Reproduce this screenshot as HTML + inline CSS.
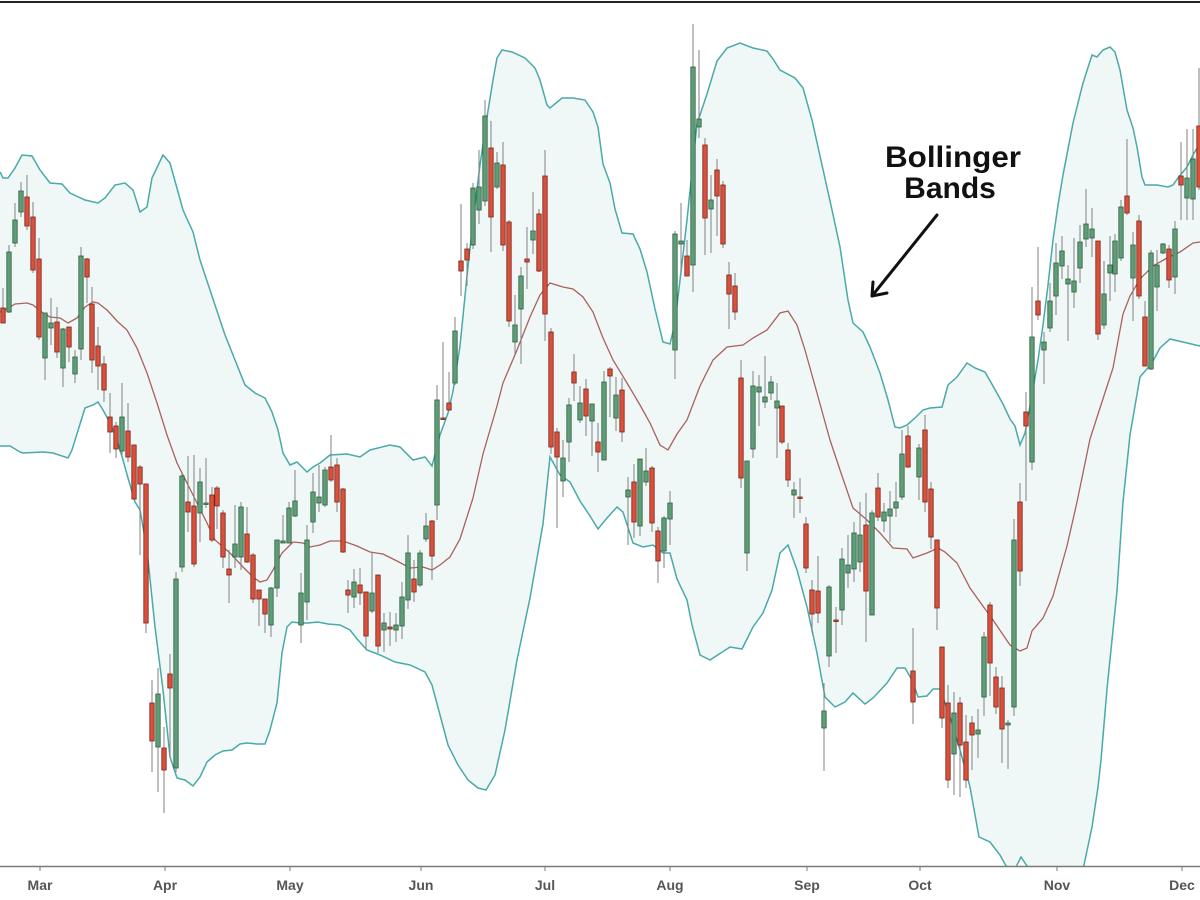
<!DOCTYPE html>
<html><head><meta charset="utf-8"><style>
html,body{margin:0;padding:0;background:#fff;}
svg{display:block}
.g{fill:#5e9e77;stroke:#2e5e40;stroke-width:0.8}
.r{fill:#d9503b;stroke:#7a2216;stroke-width:0.8}
.lab{font-family:"Liberation Sans",Arial,sans-serif;font-weight:bold;font-size:14px;fill:#555;text-anchor:middle}
</style></head><body>
<svg width="1200" height="900" viewBox="0 0 1200 900" xmlns="http://www.w3.org/2000/svg">
<defs><clipPath id="c"><rect x="0" y="0" width="1200" height="866"/></clipPath></defs>
<rect x="0" y="0" width="1200" height="900" fill="#fff"/>
<g clip-path="url(#c)">
<polygon fill="#f0f7f7" points="0,900 0,172 3,178 8,178 15,168 22,155 32,156 40,170 50,183 62,184 70,193 85,200 98,203 105,198 115,185 125,183 133,190 140,212 147,207 152,178 163,155 170,163 183,210 193,232 200,260 205,275 215,305 225,335 235,360 245,385 255,393 265,398 272,412 278,430 283,453 290,465 297,462 307,472 313,467 320,463 330,455 347,454 360,457 370,450 390,445 400,447 413,460 425,457 432,466 440,435 448,413 453,391 460,346 467,276 473,221 480,165 487,117 493,80 497,58 502,50 512,52 525,58 535,68 540,80 547,105 550,108 562,98 573,98 585,100 593,112 598,127 603,164 610,183 615,209 622,233 633,234 640,249 647,272 655,309 663,342 670,344 675,323 687,220 697,124 707,94 717,61 727,48 740,43 753,48 767,51 773,59 780,70 795,78 803,88 812,120 822,165 832,210 840,247 848,300 853,323 863,332 870,347 880,373 888,400 895,427 900,428 907,425 915,418 923,410 930,408 942,407 948,385 957,377 967,363 975,368 985,372 993,386 1003,404 1010,419 1015,426 1020,445 1025,433 1032,395 1038,360 1043,325 1048,285 1053,240 1058,205 1063,175 1073,123 1083,83 1092,55 1097,57 1103,50 1110,47 1115,52 1120,70 1127,110 1133,128 1137,147 1142,177 1145,185 1157,185 1168,187 1173,185 1178,178 1187,167 1193,155 1200,143 1200,900"/>
<polygon fill="#fff" points="0,900 0,446 10,446 20,452 23,453 43,452 53,453 68,458 72,450 85,408 93,405 98,402 103,410 110,423 117,440 123,460 128,478 135,502 140,510 147,550 155,627 163,690 170,757 177,778 185,780 193,786 200,777 207,762 215,755 223,751 232,750 240,744 247,743 257,744 265,744 270,730 277,703 282,653 287,627 292,622 300,623 308,623 318,622 328,624 340,625 350,630 357,639 367,650 380,655 395,662 410,665 425,672 432,685 440,715 448,745 458,765 468,780 478,788 486,790 495,775 505,730 517,660 530,598 543,524 550,457 560,475 570,482 580,501 590,516 598,529 607,518 617,507 623,512 633,543 643,547 653,545 663,553 670,553 677,579 687,600 692,625 700,655 710,660 730,647 742,649 753,627 763,613 772,590 780,553 788,545 797,570 807,607 817,653 825,697 835,707 845,702 853,693 865,704 873,698 887,683 897,668 905,668 912,680 918,697 927,696 933,689 940,689 950,717 960,750 970,787 979,837 990,842 1000,855 1006,866 1015,869 1021,857 1027,866 1040,885 1078,885 1084,865 1092,827 1098,787 1101,760 1107,689 1117,591 1123,502 1130,435 1140,377 1152,363 1160,348 1170,339 1187,343 1200,346 1200,900"/>
<polyline fill="none" stroke="#4aa9a9" stroke-width="1.5" points="0,172 3,178 8,178 15,168 22,155 32,156 40,170 50,183 62,184 70,193 85,200 98,203 105,198 115,185 125,183 133,190 140,212 147,207 152,178 163,155 170,163 183,210 193,232 200,260 205,275 215,305 225,335 235,360 245,385 255,393 265,398 272,412 278,430 283,453 290,465 297,462 307,472 313,467 320,463 330,455 347,454 360,457 370,450 390,445 400,447 413,460 425,457 432,466 440,435 448,413 453,391 460,346 467,276 473,221 480,165 487,117 493,80 497,58 502,50 512,52 525,58 535,68 540,80 547,105 550,108 562,98 573,98 585,100 593,112 598,127 603,164 610,183 615,209 622,233 633,234 640,249 647,272 655,309 663,342 670,344 675,323 687,220 697,124 707,94 717,61 727,48 740,43 753,48 767,51 773,59 780,70 795,78 803,88 812,120 822,165 832,210 840,247 848,300 853,323 863,332 870,347 880,373 888,400 895,427 900,428 907,425 915,418 923,410 930,408 942,407 948,385 957,377 967,363 975,368 985,372 993,386 1003,404 1010,419 1015,426 1020,445 1025,433 1032,395 1038,360 1043,325 1048,285 1053,240 1058,205 1063,175 1073,123 1083,83 1092,55 1097,57 1103,50 1110,47 1115,52 1120,70 1127,110 1133,128 1137,147 1142,177 1145,185 1157,185 1168,187 1173,185 1178,178 1187,167 1193,155 1200,143"/>
<polyline fill="none" stroke="#4aa9a9" stroke-width="1.5" points="0,446 10,446 20,452 23,453 43,452 53,453 68,458 72,450 85,408 93,405 98,402 103,410 110,423 117,440 123,460 128,478 135,502 140,510 147,550 155,627 163,690 170,757 177,778 185,780 193,786 200,777 207,762 215,755 223,751 232,750 240,744 247,743 257,744 265,744 270,730 277,703 282,653 287,627 292,622 300,623 308,623 318,622 328,624 340,625 350,630 357,639 367,650 380,655 395,662 410,665 425,672 432,685 440,715 448,745 458,765 468,780 478,788 486,790 495,775 505,730 517,660 530,598 543,524 550,457 560,475 570,482 580,501 590,516 598,529 607,518 617,507 623,512 633,543 643,547 653,545 663,553 670,553 677,579 687,600 692,625 700,655 710,660 730,647 742,649 753,627 763,613 772,590 780,553 788,545 797,570 807,607 817,653 825,697 835,707 845,702 853,693 865,704 873,698 887,683 897,668 905,668 912,680 918,697 927,696 933,689 940,689 950,717 960,750 970,787 979,837 990,842 1000,855 1006,866 1015,869 1021,857 1027,866 1040,885 1078,885 1084,865 1092,827 1098,787 1101,760 1107,689 1117,591 1123,502 1130,435 1140,377 1152,363 1160,348 1170,339 1187,343 1200,346"/>
<polyline fill="none" stroke="#a9625c" stroke-width="1.3" points="0,312 5,310 15,304 27,303 33,305 43,313 50,317 60,318 68,323 77,318 85,307 93,302 98,303 107,310 118,322 127,330 137,348 147,373 157,403 167,435 177,463 187,483 197,503 207,523 215,540 230,553 243,567 253,577 260,582 267,580 273,570 282,553 293,542 303,543 310,547 320,545 330,541 343,541 357,546 370,552 383,554 397,561 410,568 423,567 432,570 440,565 450,557 460,539 473,498 483,454 497,406 503,383 517,350 530,317 540,295 550,283 563,287 573,289 583,297 593,312 603,338 613,360 627,383 640,405 650,423 660,445 668,450 677,434 687,420 700,386 713,360 727,347 743,345 753,338 767,330 780,313 788,311 797,325 805,350 817,393 830,440 840,470 853,508 867,520 880,533 893,548 907,549 913,558 927,553 938,548 945,552 957,563 970,588 980,602 993,620 1010,645 1020,651 1027,648 1032,631 1043,618 1053,596 1067,546 1077,502 1090,439 1100,408 1113,368 1123,314 1130,296 1140,279 1153,266 1167,258 1180,252 1193,243 1200,242"/>
</g>
<path fill="none" stroke="#808080" stroke-width="1" d="M3 288V323M9 245V313M15 203V247M21 182V217M27 175V230M33 202V273M39 238V340M45 313V380M51 298V345M57 307V358M63 328V387M69 327V362M75 350V383M81 247V360M87 258V303M92 287V373M98 327V390M104 356V402M110 393V453M116 422V458M122 383V455M128 403V462M134 445V500M140 465V555M146 484V633M152 680V772M158 668V792M164 727V813M170 654V757M176 572V772M182 473V572M188 456V532M194 455V567M200 468V542M206 458V508M212 487V542M217 486V529M223 510V568M229 550V603M235 505V568M241 502V570M247 507V563M253 553V603M259 590V626M265 599V633M271 587V637M277 540V597M283 515V543M289 502V543M295 470V517M301 573V643M307 525V620M313 473V533M319 465V512M325 467V507M331 435V482M337 458V512M343 488V553M348 580V613M354 569V608M360 568V605M366 592V650M372 553V613M378 575V653M384 613V652M390 612V646M396 613V642M402 582V639M408 535V609M414 560V602M420 550V587M426 513V542M432 520V580M437 385V520M443 342V420M449 372V411M455 317V385M461 204V296M467 243V286M473 183V249M479 150V224M485 100V206M491 121V252M497 152V189M503 142V251M509 220V327M515 295V354M521 267V364M527 227V289M533 192V254M539 209V272M545 150V341M551 328V454M557 428V528M563 440V497M569 398V462M574 354V401M580 386V423M586 379V436M592 404V456M598 423V472M604 371V460M610 367V417M616 377V431M622 378V442M628 477V545M634 464V538M640 459V536M646 448V486M652 466V532M658 527V583M664 516V568M670 491V545M675 231V379M681 203V272M687 240V276M693 24V292M699 50V138M705 138V255M711 175V253M717 159V236M723 181V248M729 262V329M735 273V320M741 360V488M747 461V571M753 371V458M759 375V426M765 356V408M771 376V400M777 383V458M782 406V444M788 443V487M794 482V518M800 478V513M806 517V573M812 580V633M818 556V623M824 683V771M829 585V667M836 607V653M842 548V625M848 535V588M854 522V582M860 502V572M866 493V642M872 510V615M878 473V521M884 503V532M890 491V542M896 482V517M902 430V500M908 426V468M913 628V724M919 444V500M925 415V512M931 482V549M937 540V630M942 647V728M948 685V788M954 692V795M960 697V797M966 715V788M972 716V770M978 709V758M984 632V716M990 602V696M996 667V714M1002 676V763M1008 720V769M1014 519V716M1020 483V586M1026 392V501M1032 287V470M1038 247V320M1044 332V384M1050 283V332M1056 243V315M1062 236V279M1068 265V341M1074 238V308M1080 225V283M1086 189V247M1092 208V257M1098 241V340M1104 261V329M1110 236V301M1115 234V292M1121 200V261M1127 139V215M1133 232V321M1139 215V299M1145 301V366M1151 250V370M1157 250V311M1163 243V254M1169 245V288M1175 221V294M1181 142V220M1187 129V220M1193 129V220M1199 68V190"/>
<g>
<rect class="r" x="0.8" y="308" width="4.4" height="15"/>
<rect class="g" x="6.8" y="252" width="4.4" height="60"/>
<rect class="g" x="12.8" y="220" width="4.4" height="23"/>
<rect class="g" x="18.8" y="191" width="4.4" height="21"/>
<rect class="r" x="24.8" y="197" width="4.4" height="29"/>
<rect class="r" x="30.8" y="217" width="4.4" height="53"/>
<rect class="r" x="36.8" y="259" width="4.4" height="78"/>
<rect class="g" x="42.8" y="313" width="4.4" height="45"/>
<rect class="g" x="48.8" y="323" width="4.4" height="5"/>
<rect class="r" x="54.8" y="322" width="4.4" height="30"/>
<rect class="g" x="60.8" y="329" width="4.4" height="39"/>
<rect class="r" x="66.8" y="327" width="4.4" height="20"/>
<rect class="g" x="72.8" y="357" width="4.4" height="17"/>
<rect class="g" x="78.8" y="256" width="4.4" height="93"/>
<rect class="r" x="84.8" y="259" width="4.4" height="18"/>
<rect class="r" x="89.8" y="304" width="4.4" height="56"/>
<rect class="r" x="95.8" y="346" width="4.4" height="20"/>
<rect class="r" x="101.8" y="364" width="4.4" height="26"/>
<rect class="r" x="107.8" y="417" width="4.4" height="15"/>
<rect class="r" x="113.8" y="426" width="4.4" height="23"/>
<rect class="g" x="119.8" y="417" width="4.4" height="34"/>
<rect class="r" x="125.8" y="431" width="4.4" height="26"/>
<rect class="r" x="131.8" y="445" width="4.4" height="54"/>
<rect class="r" x="137.8" y="467" width="4.4" height="17"/>
<rect class="r" x="143.8" y="484" width="4.4" height="139"/>
<rect class="r" x="149.8" y="703" width="4.4" height="38"/>
<rect class="g" x="155.8" y="694" width="4.4" height="53"/>
<rect class="r" x="161.8" y="748" width="4.4" height="22"/>
<rect class="r" x="167.8" y="674" width="4.4" height="14"/>
<rect class="g" x="173.8" y="579" width="4.4" height="189"/>
<rect class="g" x="179.8" y="476" width="4.4" height="91"/>
<rect class="r" x="185.8" y="502" width="4.4" height="10"/>
<rect class="r" x="191.8" y="506" width="4.4" height="58"/>
<rect class="g" x="197.8" y="482" width="4.4" height="31"/>
<rect class="g" x="203.8" y="503" width="4.4" height="1.5"/>
<rect class="r" x="209.8" y="495" width="4.4" height="45"/>
<rect class="r" x="214.8" y="488" width="4.4" height="18"/>
<rect class="r" x="220.8" y="513" width="4.4" height="44"/>
<rect class="r" x="226.8" y="569" width="4.4" height="6"/>
<rect class="g" x="232.8" y="544" width="4.4" height="13"/>
<rect class="g" x="238.8" y="507" width="4.4" height="50"/>
<rect class="r" x="244.8" y="534" width="4.4" height="28"/>
<rect class="r" x="250.8" y="555" width="4.4" height="44"/>
<rect class="r" x="256.8" y="590" width="4.4" height="9"/>
<rect class="r" x="262.8" y="599" width="4.4" height="15"/>
<rect class="g" x="268.8" y="588" width="4.4" height="37"/>
<rect class="g" x="274.8" y="540" width="4.4" height="48"/>
<rect class="g" x="280.8" y="541" width="4.4" height="2"/>
<rect class="g" x="286.8" y="508" width="4.4" height="35"/>
<rect class="g" x="292.8" y="501" width="4.4" height="15"/>
<rect class="g" x="298.8" y="593" width="4.4" height="32"/>
<rect class="g" x="304.8" y="540" width="4.4" height="62"/>
<rect class="g" x="310.8" y="492" width="4.4" height="30"/>
<rect class="g" x="316.8" y="497" width="4.4" height="6"/>
<rect class="g" x="322.8" y="470" width="4.4" height="35"/>
<rect class="r" x="328.8" y="467" width="4.4" height="13"/>
<rect class="r" x="334.8" y="465" width="4.4" height="37"/>
<rect class="r" x="340.8" y="489" width="4.4" height="63"/>
<rect class="r" x="345.8" y="590" width="4.4" height="5"/>
<rect class="g" x="351.8" y="582" width="4.4" height="15"/>
<rect class="r" x="357.8" y="585" width="4.4" height="8"/>
<rect class="r" x="363.8" y="592" width="4.4" height="44"/>
<rect class="g" x="369.8" y="593" width="4.4" height="18"/>
<rect class="r" x="375.8" y="575" width="4.4" height="71"/>
<rect class="g" x="381.8" y="623" width="4.4" height="7"/>
<rect class="r" x="387.8" y="627" width="4.4" height="2"/>
<rect class="g" x="393.8" y="625" width="4.4" height="5"/>
<rect class="g" x="399.8" y="597" width="4.4" height="29"/>
<rect class="g" x="405.8" y="553" width="4.4" height="47"/>
<rect class="r" x="411.8" y="579" width="4.4" height="13"/>
<rect class="g" x="417.8" y="553" width="4.4" height="32"/>
<rect class="g" x="423.8" y="526" width="4.4" height="13"/>
<rect class="r" x="429.8" y="521" width="4.4" height="35"/>
<rect class="g" x="434.8" y="400" width="4.4" height="105"/>
<rect class="r" x="440.8" y="418" width="4.4" height="1.5"/>
<rect class="r" x="446.8" y="403" width="4.4" height="7"/>
<rect class="g" x="452.8" y="331" width="4.4" height="52"/>
<rect class="r" x="458.8" y="261" width="4.4" height="10"/>
<rect class="r" x="464.8" y="249" width="4.4" height="11"/>
<rect class="g" x="470.8" y="188" width="4.4" height="57"/>
<rect class="g" x="476.8" y="187" width="4.4" height="23"/>
<rect class="g" x="482.8" y="116" width="4.4" height="85"/>
<rect class="r" x="488.8" y="148" width="4.4" height="69"/>
<rect class="g" x="494.8" y="163" width="4.4" height="24"/>
<rect class="r" x="500.8" y="165" width="4.4" height="80"/>
<rect class="r" x="506.8" y="222" width="4.4" height="99"/>
<rect class="g" x="512.8" y="325" width="4.4" height="17"/>
<rect class="g" x="518.8" y="276" width="4.4" height="33"/>
<rect class="r" x="524.8" y="259" width="4.4" height="3"/>
<rect class="g" x="530.8" y="231" width="4.4" height="9"/>
<rect class="r" x="536.8" y="214" width="4.4" height="57"/>
<rect class="r" x="542.8" y="176" width="4.4" height="138"/>
<rect class="r" x="548.8" y="332" width="4.4" height="115"/>
<rect class="r" x="554.8" y="432" width="4.4" height="25"/>
<rect class="g" x="560.8" y="458" width="4.4" height="23"/>
<rect class="g" x="566.8" y="405" width="4.4" height="37"/>
<rect class="r" x="571.8" y="372" width="4.4" height="11"/>
<rect class="g" x="577.8" y="403" width="4.4" height="17"/>
<rect class="r" x="583.8" y="389" width="4.4" height="27"/>
<rect class="g" x="589.8" y="404" width="4.4" height="17"/>
<rect class="r" x="595.8" y="442" width="4.4" height="10"/>
<rect class="g" x="601.8" y="382" width="4.4" height="78"/>
<rect class="r" x="607.8" y="369" width="4.4" height="7"/>
<rect class="g" x="613.8" y="395" width="4.4" height="23"/>
<rect class="r" x="619.8" y="390" width="4.4" height="42"/>
<rect class="g" x="625.8" y="490" width="4.4" height="7"/>
<rect class="r" x="631.8" y="482" width="4.4" height="40"/>
<rect class="g" x="637.8" y="459" width="4.4" height="67"/>
<rect class="g" x="643.8" y="471" width="4.4" height="11"/>
<rect class="r" x="649.8" y="468" width="4.4" height="55"/>
<rect class="r" x="655.8" y="531" width="4.4" height="30"/>
<rect class="g" x="661.8" y="518" width="4.4" height="33"/>
<rect class="g" x="667.8" y="503" width="4.4" height="16"/>
<rect class="g" x="672.8" y="234" width="4.4" height="116"/>
<rect class="g" x="678.8" y="241" width="4.4" height="3"/>
<rect class="r" x="684.8" y="256" width="4.4" height="20"/>
<rect class="g" x="690.8" y="67" width="4.4" height="198"/>
<rect class="g" x="696.8" y="119" width="4.4" height="8"/>
<rect class="r" x="702.8" y="145" width="4.4" height="73"/>
<rect class="g" x="708.8" y="200" width="4.4" height="9"/>
<rect class="r" x="714.8" y="170" width="4.4" height="26"/>
<rect class="r" x="720.8" y="185" width="4.4" height="59"/>
<rect class="r" x="726.8" y="275" width="4.4" height="19"/>
<rect class="r" x="732.8" y="286" width="4.4" height="26"/>
<rect class="r" x="738.8" y="378" width="4.4" height="100"/>
<rect class="g" x="744.8" y="461" width="4.4" height="92"/>
<rect class="g" x="750.8" y="386" width="4.4" height="63"/>
<rect class="g" x="756.8" y="387" width="4.4" height="5"/>
<rect class="g" x="762.8" y="397" width="4.4" height="5"/>
<rect class="g" x="768.8" y="382" width="4.4" height="11"/>
<rect class="g" x="774.8" y="401" width="4.4" height="7"/>
<rect class="r" x="779.8" y="406" width="4.4" height="36"/>
<rect class="r" x="785.8" y="450" width="4.4" height="30"/>
<rect class="g" x="791.8" y="490" width="4.4" height="5"/>
<rect class="r" x="797.8" y="497" width="4.4" height="1.5"/>
<rect class="r" x="803.8" y="524" width="4.4" height="44"/>
<rect class="r" x="809.8" y="590" width="4.4" height="24"/>
<rect class="r" x="815.8" y="591" width="4.4" height="22"/>
<rect class="g" x="821.8" y="711" width="4.4" height="17"/>
<rect class="g" x="826.8" y="587" width="4.4" height="69"/>
<rect class="r" x="833.8" y="620" width="4.4" height="1.5"/>
<rect class="g" x="839.8" y="559" width="4.4" height="51"/>
<rect class="g" x="845.8" y="565" width="4.4" height="8"/>
<rect class="g" x="851.8" y="533" width="4.4" height="36"/>
<rect class="g" x="857.8" y="535" width="4.4" height="27"/>
<rect class="r" x="863.8" y="525" width="4.4" height="66"/>
<rect class="g" x="869.8" y="513" width="4.4" height="102"/>
<rect class="r" x="875.8" y="488" width="4.4" height="29"/>
<rect class="g" x="881.8" y="512" width="4.4" height="9"/>
<rect class="g" x="887.8" y="509" width="4.4" height="7"/>
<rect class="g" x="893.8" y="502" width="4.4" height="6"/>
<rect class="g" x="899.8" y="454" width="4.4" height="43"/>
<rect class="r" x="905.8" y="436" width="4.4" height="31"/>
<rect class="r" x="910.8" y="671" width="4.4" height="31"/>
<rect class="g" x="916.8" y="448" width="4.4" height="29"/>
<rect class="r" x="922.8" y="430" width="4.4" height="72"/>
<rect class="r" x="928.8" y="489" width="4.4" height="48"/>
<rect class="r" x="934.8" y="540" width="4.4" height="68"/>
<rect class="r" x="939.8" y="647" width="4.4" height="71"/>
<rect class="r" x="945.8" y="703" width="4.4" height="77"/>
<rect class="g" x="951.8" y="713" width="4.4" height="41"/>
<rect class="r" x="957.8" y="703" width="4.4" height="42"/>
<rect class="r" x="963.8" y="742" width="4.4" height="38"/>
<rect class="r" x="969.8" y="723" width="4.4" height="12"/>
<rect class="g" x="975.8" y="730" width="4.4" height="4"/>
<rect class="g" x="981.8" y="637" width="4.4" height="60"/>
<rect class="r" x="987.8" y="605" width="4.4" height="58"/>
<rect class="r" x="993.8" y="677" width="4.4" height="30"/>
<rect class="r" x="999.8" y="688" width="4.4" height="41"/>
<rect class="g" x="1005.8" y="723" width="4.4" height="2"/>
<rect class="g" x="1011.8" y="540" width="4.4" height="167"/>
<rect class="r" x="1017.8" y="502" width="4.4" height="69"/>
<rect class="r" x="1023.8" y="412" width="4.4" height="14"/>
<rect class="g" x="1029.8" y="337" width="4.4" height="125"/>
<rect class="r" x="1035.8" y="301" width="4.4" height="14"/>
<rect class="g" x="1041.8" y="342" width="4.4" height="8"/>
<rect class="g" x="1047.8" y="301" width="4.4" height="27"/>
<rect class="g" x="1053.8" y="263" width="4.4" height="33"/>
<rect class="g" x="1059.8" y="251" width="4.4" height="15"/>
<rect class="g" x="1065.8" y="279" width="4.4" height="5"/>
<rect class="g" x="1071.8" y="281" width="4.4" height="11"/>
<rect class="g" x="1077.8" y="242" width="4.4" height="26"/>
<rect class="g" x="1083.8" y="224" width="4.4" height="15"/>
<rect class="g" x="1089.8" y="229" width="4.4" height="9"/>
<rect class="r" x="1095.8" y="241" width="4.4" height="93"/>
<rect class="g" x="1101.8" y="294" width="4.4" height="31"/>
<rect class="g" x="1107.8" y="265" width="4.4" height="8"/>
<rect class="g" x="1112.8" y="241" width="4.4" height="33"/>
<rect class="g" x="1118.8" y="207" width="4.4" height="51"/>
<rect class="r" x="1124.8" y="196" width="4.4" height="17"/>
<rect class="g" x="1130.8" y="245" width="4.4" height="33"/>
<rect class="r" x="1136.8" y="221" width="4.4" height="75"/>
<rect class="r" x="1142.8" y="317" width="4.4" height="49"/>
<rect class="g" x="1148.8" y="253" width="4.4" height="116"/>
<rect class="g" x="1154.8" y="265" width="4.4" height="22"/>
<rect class="g" x="1160.8" y="244" width="4.4" height="9"/>
<rect class="r" x="1166.8" y="249" width="4.4" height="31"/>
<rect class="g" x="1172.8" y="229" width="4.4" height="48"/>
<rect class="r" x="1178.8" y="176" width="4.4" height="9"/>
<rect class="g" x="1184.8" y="178" width="4.4" height="20"/>
<rect class="g" x="1190.8" y="159" width="4.4" height="40"/>
<rect class="r" x="1196.8" y="126" width="4.4" height="61"/>
</g>
<rect x="0" y="1" width="1200" height="2" fill="#222"/>
<line x1="0" y1="866.5" x2="1200" y2="866.5" stroke="#7a7a7a" stroke-width="1.5"/>
<path stroke="#7a7a7a" stroke-width="1" d="M40 866V871M165 866V871M290 866V871M421 866V871M545 866V871M670 866V871M807 866V871M920 866V871M1057 866V871M1182 866V871"/>
<text class="lab" x="40" y="890">Mar</text>
<text class="lab" x="165" y="890">Apr</text>
<text class="lab" x="290" y="890">May</text>
<text class="lab" x="421" y="890">Jun</text>
<text class="lab" x="545" y="890">Jul</text>
<text class="lab" x="670" y="890">Aug</text>
<text class="lab" x="807" y="890">Sep</text>
<text class="lab" x="920" y="890">Oct</text>
<text class="lab" x="1057" y="890">Nov</text>
<text class="lab" x="1182" y="890">Dec</text>
<text x="953" y="167" font-family="Liberation Sans, Arial, sans-serif" font-weight="bold" font-size="30" fill="#111" text-anchor="middle" textLength="136" lengthAdjust="spacingAndGlyphs">Bollinger</text>
<text x="950" y="198" font-family="Liberation Sans, Arial, sans-serif" font-weight="bold" font-size="30" fill="#111" text-anchor="middle">Bands</text>
<path d="M937 215L872 296M872 296L873 282M872 296L887 293" stroke="#111" stroke-width="3" fill="none" stroke-linecap="round"/>
</svg>
</body></html>
